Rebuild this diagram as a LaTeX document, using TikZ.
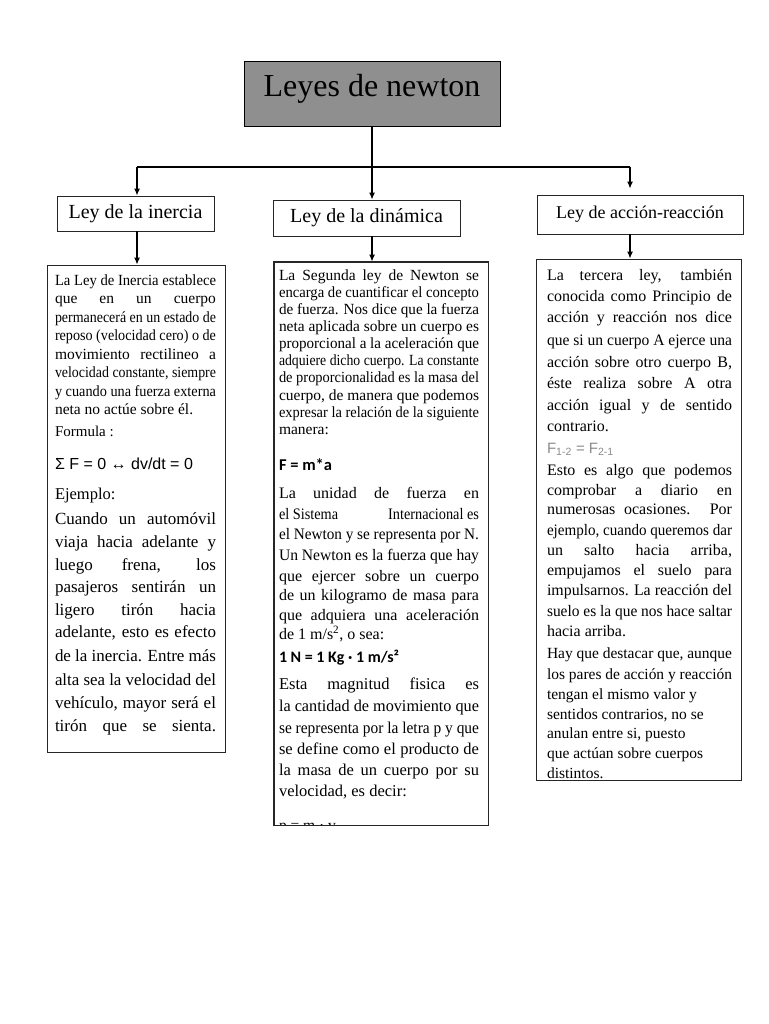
\documentclass[tikz,border=0pt]{standalone}
\usepackage{fontspec}
\usepackage{graphicx}
\setmainfont{Liberation Serif}
\newfontfamily\sansf{Liberation Sans}
\newfontfamily\calf{Carlito}
\usetikzlibrary{arrows.meta}
\definecolor{titlegray}{HTML}{8F8F8F}
\definecolor{eqgray}{HTML}{8A8A8A}
\definecolor{boxline}{HTML}{262626}
% justified line
\newcommand\J[1]{\par\setbox0=\hbox{\strut#1}\ifdim\wd0>\hsize\hbox to\hsize{\resizebox{\hsize}{\height}{\box0}}\else\hbox to\hsize{\strut#1}\fi}
% ragged (left) line
\newcommand\Lf[1]{\par\setbox0=\hbox{\strut#1}\ifdim\wd0>\hsize\hbox to\hsize{\resizebox{\hsize}{\height}{\box0}}\else\box0\fi}
\newcommand\para[4]{\vbox{\hsize=#1\fontsize{#2}{#3}\selectfont#4}}
\begin{document}
\begin{tikzpicture}[x=1pt,y=-1pt,
  titlebox/.style={draw=black,line width=1pt,fill=titlegray,minimum width=256pt,minimum height=65pt,inner sep=0pt,text height=22pt,text depth=17pt,font=\fontsize{32}{38}\selectfont},
  headbox/.style={draw=boxline,line width=0.9pt,fill=white,inner sep=0pt,font=\fontsize{20}{24}\selectfont},
  contbox/.style={draw=boxline,line width=0.9pt,inner sep=0pt},
  txt/.style={inner sep=0pt,outer sep=0pt,anchor=north west,text=black},
  one/.style={inner sep=0pt,outer sep=0pt,anchor=base west,text=black},
  conn/.style={line width=1.2pt,draw=black},
  arr/.style={conn,-{Latex[length=7pt,width=6pt]}}]
\useasboundingbox (0,0) rectangle (768,1024);
\fill[white] (0,0) rectangle (768,1024);

% title and headings
\node[titlebox] (title) at (372,94.5) {Leyes de newton};
\node[headbox,minimum width=157pt,minimum height=35pt] (h1) at (135.5,213.5) {Ley de la inercia};
\node[headbox,minimum width=187pt,minimum height=36pt] (h2) at (366.5,218) {Ley de la dinámica};
\node[headbox,minimum width=206pt,minimum height=39pt,font=\fontsize{18}{22}\selectfont] (h3) at (640,214.5) {Ley de acción-reacción};

% content boxes
\node[contbox,minimum width=178pt,minimum height=487pt] (c1) at (136,508.5) {};
\node[contbox,minimum width=214pt,minimum height=563pt] (c2) at (381,543.5) {};
\node[contbox,minimum width=205pt,minimum height=521pt] (c3) at (638.5,519.5) {};

% connectors
\coordinate (jL) at (137,167);
\coordinate (jM) at (372,167);
\coordinate (jR) at (630,167);
\draw[conn] (title.south) -- (jM);
\draw[conn] (jL) -- (jR);
\draw[arr] (jL) -- (jL |- h1.north);
\draw[arr] (jM) -- (jM |- h2.north);
\draw[arr] (jR) -- ([yshift=6pt]jR |- h3.north);
\draw[arr] (h1.south -| jL) -- (jL |- c1.north);
\draw[arr] (h2.south -| jM) -- (jM |- c2.north);
\draw[arr] (h3.south -| jR) -- (jR |- c3.north);

% ---- left box text
\node[txt] (l1) at (55,272.75) {\para{161pt}{15.5}{17.5}{%
\J{La Ley de Inercia establece}
\J{que en un cuerpo}
\J{permanecerá en un estado de}
\J{reposo (velocidad cero) o de}
\J{movimiento rectilineo a}
\J{velocidad constante, siempre}
\J{y cuando una fuerza externa}
\Lf{neta no actúe sobre él.}}};
\node[one,font=\fontsize{15}{17}\selectfont] (l2) at (55,436) {Formula :};
\node[one,font=\sansf\fontsize{16}{19}\selectfont] (l3) at (55,469) {Σ F = 0 ↔ dv/dt = 0};
\node[one,font=\fontsize{16.5}{19}\selectfont] (l4) at (55,499) {Ejemplo:};
\node[txt] (l5) at (55,509) {\para{161pt}{17}{22.6}{%
\J{Cuando un automóvil}
\J{viaja hacia adelante y}
\J{luego frena, los}
\J{pasajeros sentirán un}
\J{ligero tirón hacia}
\J{adelante, esto es efecto}
\J{de la inercia. Entre más}
\J{alta sea la velocidad del}
\J{vehículo, mayor será el}
\J{tirón que se sienta.}}};

% ---- middle box text
\node[txt] (m1) at (279,268) {\para{200pt}{15.5}{17.15}{%
\J{La Segunda ley de Newton se}
\J{encarga de cuantificar el concepto}
\J{de fuerza. Nos dice que la fuerza}
\J{neta aplicada sobre un cuerpo es}
\J{proporcional a la aceleración que}
\J{adquiere dicho cuerpo. La constante}
\J{de proporcionalidad es la masa del}
\J{cuerpo, de manera que podemos}
\J{expresar la relación de la siguiente}
\Lf{manera:}}};
\node[one,font=\calf\bfseries\fontsize{16.5}{20}\selectfont] (m2) at (279,470.5) {F = m*a};
\node[txt] (m3) at (279,484.9) {\para{200pt}{16}{19.6}{%
\J{La unidad de fuerza en}
\J{el Sistema \hspace{3em} Internacional es}
\J{el Newton y se representa por N.}
\J{Un Newton es la fuerza que hay}
\J{que ejercer sobre un cuerpo}
\J{de un kilogramo de masa para}
\J{que adquiera una aceleración}
\Lf{de 1 m/s\textsuperscript{2}, o sea:}}};
\node[one,font=\calf\bfseries\fontsize{16}{20}\selectfont] (m4) at (279,662.5) {1 N = 1 Kg · 1 m/s²};
\node[txt] (m5) at (279,675) {\para{200pt}{16.5}{20.8}{%
\J{Esta magnitud fisica es}
\J{la cantidad de movimiento que}
\J{se representa por la letra p y que}
\J{se define como el producto de}
\J{la masa de un cuerpo por su}
\Lf{velocidad, es decir:}}};
\begin{scope}
\clip (c2.north west) rectangle (c2.south east);
\node[one,font=\fontsize{15.5}{18}\selectfont] (m6) at (279,830) {p = m · v};
\end{scope}
\draw[draw=boxline,line width=0.9pt] (c2.north west) rectangle (c2.south east);

% ---- right box text
\node[txt] (r1) at (547,265.4) {\para{185pt}{16}{21.3}{%
\J{La tercera ley, también}
\J{conocida como Principio de}
\J{acción y reacción nos dice}
\J{que si un cuerpo A ejerce una}
\J{acción sobre otro cuerpo B,}
\J{éste realiza sobre A otra}
\J{acción igual y de sentido}
\Lf{contrario.}}};
\node[one,font=\sansf\fontsize{15}{17}\selectfont,text=eqgray] (r2) at (547,453) {F\textsubscript{1-2} = F\textsubscript{2-1}};
\node[txt] (r3) at (547,462) {\para{185pt}{16}{19.5}{%
\J{Esto es algo que podemos}
\J{comprobar a diario en}
\J{numerosas ocasiones. Por}
\J{ejemplo, cuando queremos dar}
\J{un salto hacia arriba,}
\J{empujamos el suelo para}
\J{impulsarnos. La reacción del}
\J{suelo es la que nos hace saltar}
\Lf{hacia arriba.}}};
\node[txt] (r4) at (547,644.8) {\para{185pt}{15.5}{19.6}{%
\Lf{Hay que destacar que, aunque}
\Lf{los pares de acción y reacción}
\Lf{tengan el mismo valor y}
\Lf{sentidos contrarios, no se}
\Lf{anulan entre si, puesto}
\Lf{que actúan sobre cuerpos}
\Lf{distintos.}}};
\end{tikzpicture}
\end{document}
